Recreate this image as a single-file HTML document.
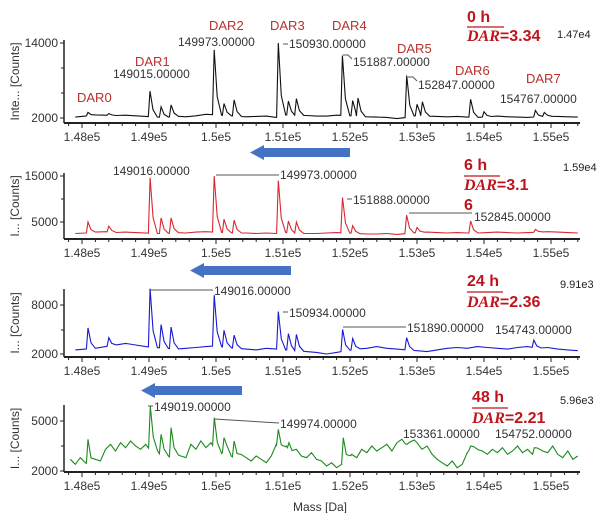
<!DOCTYPE html>
<html><head><meta charset="utf-8">
<style>
html,body{margin:0;padding:0;background:#fff;}
svg{display:block;font-family:"Liberation Sans",sans-serif;}
.t{font-size:12px;fill:#333;}
.dar{font-size:13px;fill:#b8312f;}
.hd{font-size:16px;font-weight:bold;fill:#c0141c;}
.sc{font-size:11px;fill:#222;}
</style></head>
<body>
<svg id="chart" width="600" height="513" viewBox="0 0 600 513"></svg>
<script>
// ---- data ----
const gridStart = 147750;
const xTicks = [148000,149000,150000,151000,152000,153000,154000,155000];
const xTickLabels = ["1.48e5","1.49e5","1.5e5","1.51e5","1.52e5","1.53e5","1.54e5","1.55e5"];

const base0h = [2100,2150,2300,2500,2450,2400,2450,2350,2250,2150,2100,2300,2200,2350,2600,2500,2400,2300,2200,2250,2300,2100,2500,2450,2400,2300,2300,2450,2400,2300,2200,2150,2100,1900,2100,2400,2300,2250,2200,2250,2150,2100,2200,2300,2200,2150,2100,2200,2300,2250,2200,2150];
const peakMass0h = [148090,148400,149015,149180,149330,149973,150120,150270,150930,151080,151200,151887,152040,152120,152847,153000,153080,153800,154000,154767,154900];
const peakInt0h  = [2900,2700,6300,3800,4100,12900,4300,4900,14000,4700,5100,12000,4800,5200,8800,4200,4600,5000,3000,3200,2900];

const base6h = [2400,2500,2600,2800,2900,2700,2800,2700,2600,2500,2500,2700,2600,2800,2900,2800,2700,2600,2600,2500,2600,2500,2700,2600,2500,2500,2600,2700,2600,2500,2400,2400,2500,2300,2500,2700,2800,2700,2600,2700,2600,2600,2700,2800,2700,2600,2700,2800,2900,2800,2700,2600];
const peakMass6h = [148090,148400,149016,149180,149330,149973,150120,150270,150930,151080,151200,151888,152040,152845,153000,153800,154767];
const peakInt6h  = [5000,4100,14600,5900,5900,15000,5600,5400,14000,5200,5000,10300,4200,6500,3800,5200,3400];

const base24h = [2400,2500,2600,2700,2900,3100,3300,3100,2900,2800,2700,2600,2700,2800,2900,3000,2800,2700,2600,2500,2700,2600,2500,2400,2300,2200,2000,2200,2400,2600,2700,2900,2700,2600,2500,2400,2300,2500,2700,2800,2700,2900,2800,2700,2600,2800,2900,2700,2800,2600,2500,2400];
const peakMass24h = [148090,148400,149016,149180,149330,149973,150120,150270,150930,151080,151200,151890,152040,152845,154743];
const peakInt24h  = [5200,4000,10000,5600,5300,9200,4900,4300,7200,4500,4400,5000,3900,4000,3700];

// 48 h baseline is read at finer resolution (every 75 Da)
const base48h = [2500,2700,2400,2800,2500,2300,2700,2600,3300,3600,3200,3700,3400,3800,3500,3300,3600,3200,3400,2900,3000,2800,3000,2900,2800,3600,3300,3800,3400,3700,3200,3000,3400,2900,2700,3000,2800,2600,2900,2700,2500,2900,3600,3200,3500,3000,3300,2900,2800,3100,2700,2600,2300,2500,2200,2400,2600,3000,2800,3300,3100,3500,3200,3400,3600,3200,3700,3900,3500,4000,3700,3300,3500,3000,2700,2500,2300,2600,2200,2400,3100,3500,3300,3200,3000,3300,3100,3400,3000,3200,3500,3100,3300,3000,3400,3200,3100,3500,3000,2800,3200,2700,2900];
const peakMass48h = [148090,149019,149180,149330,149974,150120,150270,150930,151090,151900,152850,153800,154750];
const peakInt48h  = [3900,5900,4200,4600,5200,4000,3800,4500,3700,4000,3600,3500,3400];

// ---- layout ----
const svg = document.getElementById('chart');
const NS = 'http://www.w3.org/2000/svg';
const xL = 64, xR = 580;
function xS(m){ return 82 + (m - 148000) * 0.067; }
function mk(tag, attrs, parent){
  const e = document.createElementNS(NS, tag);
  for (const k in attrs) e.setAttribute(k, attrs[k]);
  (parent || svg).appendChild(e);
  return e;
}
function txt(s, x, y, cls, anchor){
  const e = mk('text', {x:x, y:y, class:cls, 'text-anchor':anchor||'start'});
  e.textContent = s;
  return e;
}

const panels = [
  {name:'0h', base:base0h, step:150, pm:peakMass0h, pi:peakInt0h, color:'#111', axisY:123, top:40, v1:14000, y1:43, v2:2000, y2:118, yt:[[14000,'14000'],[2000,'2000']], minor:[68,93], ylab:'Inte... [Counts]'},
  {name:'6h', base:base6h, step:150, pm:peakMass6h, pi:peakInt6h, color:'#d9282f', axisY:239, top:173, v1:15000, y1:176, v2:5000, y2:222, yt:[[15000,'15000'],[5000,'5000']], minor:[199], ylab:'I... [Counts]'},
  {name:'24h', base:base24h, step:150, pm:peakMass24h, pi:peakInt24h, color:'#1a1ad0', axisY:357, top:289, v1:8000, y1:305, v2:2000, y2:354, yt:[[8000,'8000'],[2000,'2000']], minor:[330], ylab:'I... [Counts]'},
  {name:'48h', base:base48h, step:75, pm:peakMass48h, pi:peakInt48h, color:'#1d8a1d', axisY:472, top:405, v1:5000, y1:421, v2:2000, y2:471, yt:[[5000,'5000'],[2000,'2000']], minor:[446], ylab:'I... [Counts]'}
];

panels.forEach(p => {
  const yS = v => p.y2 + (v - p.v2) * (p.y1 - p.y2) / (p.v1 - p.v2);
  const baseAt = m => {
    const f = (m - gridStart) / p.step;
    const i = Math.max(0, Math.min(p.base.length - 2, Math.floor(f)));
    const t = Math.max(0, Math.min(1, f - i));
    return p.base[i] * (1 - t) + p.base[i + 1] * t;
  };
  let pts = [];
  p.base.forEach((v, i) => pts.push([gridStart + i * p.step, v]));
  p.pm.forEach((m, i) => {
    const h = p.pi[i];
    pts = pts.filter(q => q[0] < m - 25 || q[0] > m + 110);
    pts.push([m - 25, baseAt(m - 25)]);
    pts.push([m, h]);
    pts.push([m + 45, baseAt(m + 45) + (h - baseAt(m + 45)) * 0.28]);
    pts.push([m + 110, baseAt(m + 110)]);
  });
  pts.sort((a, b) => a[0] - b[0]);
  const d = pts.filter(q => xS(q[0]) >= xL + 2 && xS(q[0]) <= xR)
    .map((q, i) => (i ? 'L' : 'M') + xS(q[0]).toFixed(1) + ',' + yS(q[1]).toFixed(1)).join('');
  const g = mk('g', {});
  
  
  const line = mk('path', {d:d, fill:'none', stroke:p.color, 'stroke-width':1.1}, g);
  
  
  const ya = mk('line', {x1:xL, y1:p.top, x2:xL, y2:p.axisY, stroke:'#222', 'stroke-width':1.5}, g);
  
  
  const xa = mk('line', {x1:xL, y1:p.axisY, x2:xR, y2:p.axisY, stroke:'#222', 'stroke-width':2}, g);
  
  
  for (let m = 147800; m <= 155400; m += 200) {
    const major = m % 1000 === 0;
    mk('line', {x1:xS(m), y1:p.axisY, x2:xS(m), y2:p.axisY + (major ? 5 : 3), stroke:'#222', 'stroke-width':1}, g);
  }
  xTicks.forEach((m, i) => {
    const t = txt(xTickLabels[i], xS(m), p.axisY + 18, 't', 'middle');
    
    
  });
  p.yt.forEach(v => {
    mk('line', {x1:xL - 4, y1:yS(v[0]), x2:xL, y2:yS(v[0]), stroke:'#222'}, g);
    const t = txt(v[1], xL - 6, yS(v[0]) + 4, 't', 'end');
    
    
  });
  p.minor.forEach(y => mk('line', {x1:xL - 3, y1:y, x2:xL, y2:y, stroke:'#222'}, g));
  const cy = (p.top + p.axisY) / 2;
  const yl = txt(p.ylab, 0, 0, 't', 'middle');
  yl.setAttribute('transform', 'translate(19,' + cy + ') rotate(-90)');
  
  
});
</script>

<svg width="600" height="513" style="position:absolute;left:0;top:0">
  <g font-family="Liberation Sans, sans-serif">
    <text x="77" y="102" class="dar">DAR0</text>
    <text x="135" y="66" class="dar">DAR1</text>
    <text x="113" y="78" class="t">149015.00000</text>
    <text x="209" y="30" class="dar">DAR2</text>
    <text x="178" y="46" class="t">149973.00000</text>
    <text x="270" y="30" class="dar">DAR3</text>
    <text x="332" y="30" class="dar">DAR4</text>
    <line x1="283" y1="44" x2="288" y2="44" stroke="#555"/>
    <text x="289" y="48" class="t">150930.00000</text>
    <text x="397" y="53" class="dar">DAR5</text>
    <polyline points="343,55 348,55 352,59" fill="none" stroke="#555"/>
    <text x="353" y="66" class="t">151887.00000</text>
    <text x="455" y="75" class="dar">DAR6</text>
    <polyline points="408,77 413,77 417,81" fill="none" stroke="#555"/>
    <text x="418" y="89" class="t">152847.00000</text>
    <text x="526" y="83" class="dar">DAR7</text>
    <text x="500" y="103" class="t">154767.00000</text>
    <text x="467" y="22" class="hd">0 h</text>
    <text x="467" y="41" class="hd"><tspan font-family="Liberation Serif, serif" font-style="italic">DAR</tspan>=3.34</text>
    <line x1="467" y1="27" x2="504" y2="27" stroke="#c0141c" stroke-width="1.3"/>
    <text x="557" y="38" class="sc">1.47e4</text>

    <g fill="#4472c4"><rect x="263" y="148" width="87" height="9"/><polygon points="250,152.5 264,145 264,160"/></g>
    <g fill="#4472c4"><rect x="203" y="266" width="88" height="9"/><polygon points="190,270.5 204,263 204,278"/></g>
    <g fill="#4472c4"><rect x="154" y="386" width="88" height="9"/><polygon points="141,390.5 155,383 155,398"/></g>

    <text x="113" y="175" class="t">149016.00000</text>
    <line x1="216" y1="175" x2="279" y2="175" stroke="#555"/>
    <text x="280" y="179" class="t">149973.00000</text>
    <line x1="347" y1="199" x2="352" y2="199" stroke="#555"/>
    <text x="353" y="204" class="t">151888.00000</text>
    <line x1="409" y1="213" x2="472" y2="213" stroke="#555"/>
    <text x="474" y="221" class="t">152845.00000</text>
    <text x="464" y="170" class="hd">6 h</text>
    <line x1="464" y1="176" x2="500" y2="176" stroke="#c0141c" stroke-width="1.3"/>
    <text x="464" y="190" class="hd"><tspan font-family="Liberation Serif, serif" font-style="italic">DAR</tspan>=3.1</text>
    <text x="464" y="210" class="hd">6</text>
    <text x="563" y="171" class="sc">1.59e4</text>

    <line x1="149" y1="290" x2="213" y2="290" stroke="#555"/>
    <text x="214" y="295" class="t">149016.00000</text>
    <line x1="283" y1="312" x2="288" y2="312" stroke="#555"/>
    <text x="289" y="317" class="t">150934.00000</text>
    <line x1="343" y1="327" x2="406" y2="327" stroke="#555"/>
    <text x="407" y="332" class="t">151890.00000</text>
    <text x="495" y="334" class="t">154743.00000</text>
    <text x="467" y="286" class="hd">24 h</text>
    <line x1="467" y1="292" x2="503" y2="292" stroke="#c0141c" stroke-width="1.3"/>
    <text x="467" y="307" class="hd"><tspan font-family="Liberation Serif, serif" font-style="italic">DAR</tspan>=2.36</text>
    <text x="560" y="288" class="sc">9.91e3</text>

    <line x1="148" y1="406" x2="153" y2="406" stroke="#555"/>
    <text x="154" y="411" class="t">149019.00000</text>
    <line x1="214" y1="419" x2="279" y2="423" stroke="#555"/>
    <text x="280" y="428" class="t">149974.00000</text>
    <text x="403" y="438" class="t">153361.00000</text>
    <text x="495" y="438" class="t">154752.00000</text>
    <text x="472" y="402" class="hd">48 h</text>
    <line x1="472" y1="408" x2="508" y2="408" stroke="#c0141c" stroke-width="1.3"/>
    <text x="472" y="423" class="hd"><tspan font-family="Liberation Serif, serif" font-style="italic">DAR</tspan>=2.21</text>
    <text x="560" y="404" class="sc">5.96e3</text>

    <text x="320" y="511" class="t" text-anchor="middle">Mass [Da]</text>
  </g>
</svg>
</body></html>
